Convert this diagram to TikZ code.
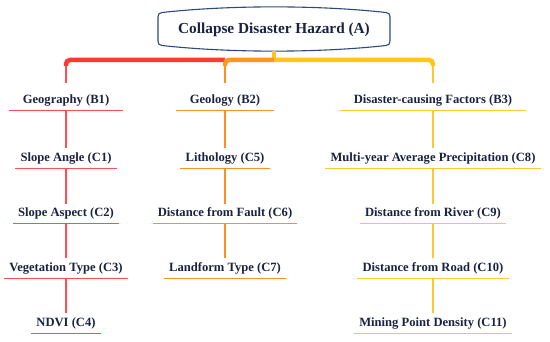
\documentclass[tikz,border=0pt]{standalone}
\usepackage{fontspec}
\setmainfont{Liberation Serif}
\newfontfamily\tnr{Liberation Serif}[BoldFont={Liberation Serif Bold}]
\definecolor{navy}{HTML}{1B2340}
\definecolor{boxblue}{HTML}{2E4A7A}
\definecolor{cred}{HTML}{FF3B30}
\definecolor{credl}{HTML}{FF4F55}
\definecolor{corg}{HTML}{FF9420}
\definecolor{corgl}{HTML}{FF9020}
\definecolor{cyel}{HTML}{FFC619}
\definecolor{cyell}{HTML}{FFC830}
\begin{document}
\begin{tikzpicture}[x=1pt,y=-1pt,
  lbl/.style={font=\tnr\fontsize{12.6}{14}\selectfont\bfseries, text=navy, text height=9pt, text depth=3pt, inner ysep=3.8pt},
  blvl/.style={lbl, inner xsep=14pt},
  clvl/.style={lbl, inner xsep=5pt},
  uline/.style={line width=1.3pt},
  conn/.style={line width=1.5pt},
  bar/.style={line width=4.5pt, rounded corners=4pt}
]
\useasboundingbox (0,0) rectangle (550,342);
\fill[white] (0,0) rectangle (550,342);

% top box
\draw[boxblue, line width=1.1pt, fill=white]
  (158,17) -- (158,41) .. controls (158,44) and (159,45) .. (162,45.5)
  .. controls (230,53) and (318,53) .. (386,45.5)
  .. controls (389,45) and (390,44) .. (390,41) -- (390,17)
  .. controls (390,14) and (389,13) .. (386,12.5)
  .. controls (318,5) and (230,5) .. (162,12.5)
  .. controls (159,13) and (158,14) .. (158,17) -- cycle;
\node[font=\tnr\fontsize{15.3}{18}\selectfont\bfseries, text=navy] (A) at (274,29.5) {Collapse Disaster Hazard (A)};

% junction coordinates
\coordinate (Abot) at (274,51);
\coordinate (J0) at (274,60);
\coordinate (J1) at (66,60);
\coordinate (J2) at (225,60);
\coordinate (J3) at (433,60);
\coordinate (J1d) at (66,66);
\coordinate (J2d) at (225,66);
\coordinate (J3d) at (433,66);
\coordinate (B1t) at (66,83);
\coordinate (B2t) at (225,83);
\coordinate (B3t) at (433,83);

% thin verticals to B level
\draw[conn, credl] (J1) -- (B1t);
\draw[conn, corgl] (J2) -- (B2t);
\draw[conn, cyell] (J3) -- (B3t);

% thick bar
\draw[line width=4pt, cyel] (Abot) -- (J0);
\draw[bar, cred] (J1d) -- (J1) -- (J2);
\draw[bar, corg] (J2d) -- (J2) -- (J0);
\draw[bar, cyel] (J0) -- (J3) -- (J3d);

% column 1
\node[blvl] (B1) at (66,100.2) {Geography (B1)};
\node[clvl] (C1) at (66,158.2) {Slope Angle (C1)};
\node[clvl] (C2) at (66,213.7) {Slope Aspect (C2)};
\node[clvl] (C3) at (66,268.2) {Vegetation Type (C3)};
\node[clvl] (C4) at (66,323.2) {NDVI (C4)};
\foreach \n in {B1,C1,C2,C3,C4}
  \draw[uline, credl] (\n.south west) -- (\n.south east);
\draw[conn, credl] (B1.south) -- (C1.north);
\draw[conn, credl] (C1.south) -- (C2.north);
\draw[conn, credl] (C2.south) -- (C3.north);
\draw[conn, credl] (C3.south) -- (C4.north);

% column 2
\node[blvl] (B2) at (225,100.2) {Geology (B2)};
\node[clvl] (C5) at (225,158.2) {Lithology (C5)};
\node[clvl] (C6) at (225,213.7) {Distance from Fault (C6)};
\node[clvl] (C7) at (225,268.2) {Landform Type (C7)};
\foreach \n in {B2,C5,C6,C7}
  \draw[uline, corgl] (\n.south west) -- (\n.south east);
\draw[conn, corgl] (B2.south) -- (C5.north);
\draw[conn, corgl] (C5.south) -- (C6.north);
\draw[conn, corgl] (C6.south) -- (C7.north);

% column 3
\node[blvl] (B3) at (433,100.2) {Disaster-causing Factors (B3)};
\node[clvl] (C8) at (433,158.2) {Multi-year Average Precipitation (C8)};
\node[clvl] (C9) at (433,213.7) {Distance from River (C9)};
\node[clvl] (C10) at (433,268.2) {Distance from Road (C10)};
\node[clvl] (C11) at (433,323.2) {Mining Point Density (C11)};
\foreach \n in {B3,C8,C9,C10,C11}
  \draw[uline, cyell] (\n.south west) -- (\n.south east);
\draw[conn, cyell] (B3.south) -- (C8.north);
\draw[conn, cyell] (C8.south) -- (C9.north);
\draw[conn, cyell] (C9.south) -- (C10.north);
\draw[conn, cyell] (C10.south) -- (C11.north);
\end{tikzpicture}
\end{document}
